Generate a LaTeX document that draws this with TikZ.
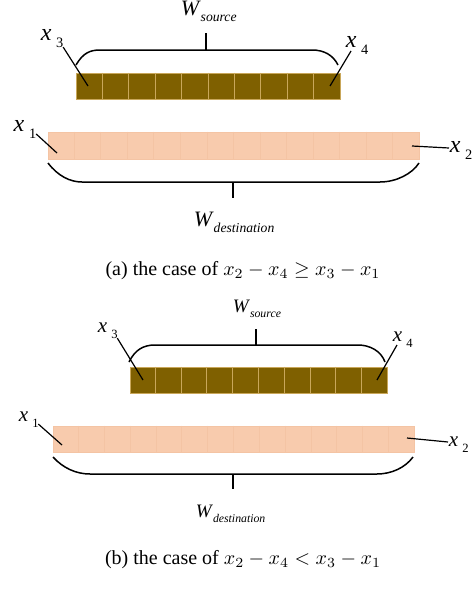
\documentclass[tikz,border=0pt]{standalone}
\usepackage{amsmath}
\usepackage{fontspec}
\setmainfont{Liberation Serif}
\usepackage{tikz}
\usetikzlibrary{calc}

\definecolor{srcfill}{HTML}{7F6000}
\definecolor{srcline}{HTML}{C9A75A}
\definecolor{dstfill}{HTML}{F8CBAD}
\definecolor{dstline}{HTML}{F4C4A4}

\newcommand{\xlab}[1]{\textit{x}\hspace{0.2em}\raisebox{-0.3em}{\scalebox{0.6}{#1}}}
\newcommand{\wlab}[1]{\textit{W}\raisebox{-0.3em}{\scalebox{0.62}{\textit{#1}}}}

\begin{document}
\begin{tikzpicture}[x=0.5pt, y=-0.5pt, line width=0.75pt,
  srcbar/.style={fill=srcfill, draw=srcline, line width=0.4pt, minimum height=13pt, inner sep=0pt},
  dstbar/.style={fill=dstfill, draw=dstline, line width=0.3pt, minimum height=13.5pt, inner sep=0pt},
  srccell/.style={draw=srcline, line width=0.5pt},
  dstcell/.style={draw=dstline, line width=0.4pt},
  lead/.style={line width=0.6pt},
  xA/.style={inner sep=0pt, anchor=base west, font=\fontsize{12}{12}\selectfont},
  xB/.style={inner sep=0pt, anchor=base west, font=\fontsize{10.5}{10.5}\selectfont},
  wA/.style={inner sep=0pt, anchor=base west, font=\fontsize{11}{11}\selectfont},
  wB/.style={inner sep=0pt, anchor=base west, font=\fontsize{9.5}{9.5}\selectfont},
  capt/.style={inner sep=0pt, font=\fontsize{10}{12}\selectfont}]

  \useasboundingbox (0,0) rectangle (474,594);

  % (a) barras
  \node[srcbar, minimum width=132pt]   (srcA) at (208,86)    {};
  \node[dstbar, minimum width=185.5pt] (dstA) at (233.5,145.5) {};
  \foreach \i in {1,...,9}
    \draw[srccell] ($(srcA.north west)!\i/10!(srcA.north east)$) -- ($(srcA.south west)!\i/10!(srcA.south east)$);
  \foreach \i in {1,...,13}
    \draw[dstcell] ($(dstA.north west)!\i/14!(dstA.north east)$) -- ($(dstA.south west)!\i/14!(dstA.south east)$);

  % (a) llaves
  \draw (76,65) .. controls (83,53) and (90,50) .. (100,50) -- (312,50) .. controls (324,50) and (333,55) .. (338,65);
  \draw (206,50) -- (206,33);
  \draw (48,163) .. controls (58,176) and (70,182) .. (82,182) -- (380,182) .. controls (396,182) and (412,174) .. (419,163);
  \draw (233,182) -- (233,198);

  % (a) etiquetas
  \node[wA] (wsA) at (180,15)  {\wlab{source}};
  \node[wA] (wdA) at (193,226) {\wlab{destination}};
  \node[xA] (x3A) at (40,40)   {\xlab{3}};
  \node[xA] (x4A) at (345,47)  {\xlab{4}};
  \node[xA] (x1A) at (13,131)  {\xlab{1}};
  \node[xA] (x2A) at (449,152) {\xlab{2}};
  \coordinate (p3A) at (88,86);
  \coordinate (p4A) at (330,86);
  \coordinate (p1A) at (57,153);
  \coordinate (p2A) at (412,146);
  \draw[lead] ([shift={(-1,-1)}]x3A.south east) -- (p3A);
  \draw[lead] ([shift={(6,4)}]x4A.base west) -- (p4A);
  \draw[lead] ([shift={(-1,-5)}]x1A.south east) -- (p1A);
  \draw[lead] ([shift={(0,-4)}]x2A.base west) -- (p2A);

  \node[capt] (captA) at (243,271) {(a) the case of $x_2-x_4\geq x_3-x_1$};

  % (b) barras
  \node[srcbar, minimum width=128.5pt] (srcB) at (258.5,380) {};
  \node[dstbar, minimum width=180.5pt, minimum height=13pt] (dstB) at (233.5,439) {};
  \foreach \i in {1,...,9}
    \draw[srccell] ($(srcB.north west)!\i/10!(srcB.north east)$) -- ($(srcB.south west)!\i/10!(srcB.south east)$);
  \foreach \i in {1,...,13}
    \draw[dstcell] ($(dstB.north west)!\i/14!(dstB.north east)$) -- ($(dstB.south west)!\i/14!(dstB.south east)$);

  % (b) llaves
  \draw (129,362) .. controls (135,350) and (143,345) .. (155,345) -- (358,345) .. controls (370,345) and (381,351) .. (385,362);
  \draw (256,345) -- (256,329);
  \draw (53,457) .. controls (63,468) and (76,474) .. (90,474) -- (377,474) .. controls (391,474) and (405,468) .. (413,457);
  \draw (233,474) -- (233,489);

  % (b) etiquetas
  \node[wB] (wsB) at (232,312) {\wlab{source}};
  \node[wB] (wdB) at (195,517) {\wlab{destination}};
  \node[xB] (x3B) at (97,332)  {\xlab{3}};
  \node[xB] (x4B) at (392,341) {\xlab{4}};
  \node[xB] (x1B) at (18,421)  {\xlab{1}};
  \node[xB] (x2B) at (448,446) {\xlab{2}};
  \coordinate (p3B) at (143,380);
  \coordinate (p4B) at (377,380);
  \coordinate (p1B) at (62,445);
  \coordinate (p2B) at (407,438);
  \draw[lead] ([shift={(-1,-1)}]x3B.south east) -- (p3B);
  \draw[lead] ([shift={(5,4)}]x4B.base west) -- (p4B);
  \draw[lead] ([shift={(-1,-4)}]x1B.south east) -- (p1B);
  \draw[lead] ([shift={(0,-4)}]x2B.base west) -- (p2B);

  \node[capt] (captB) at (243,560) {(b) the case of $x_2-x_4<x_3-x_1$};
\end{tikzpicture}
\end{document}
